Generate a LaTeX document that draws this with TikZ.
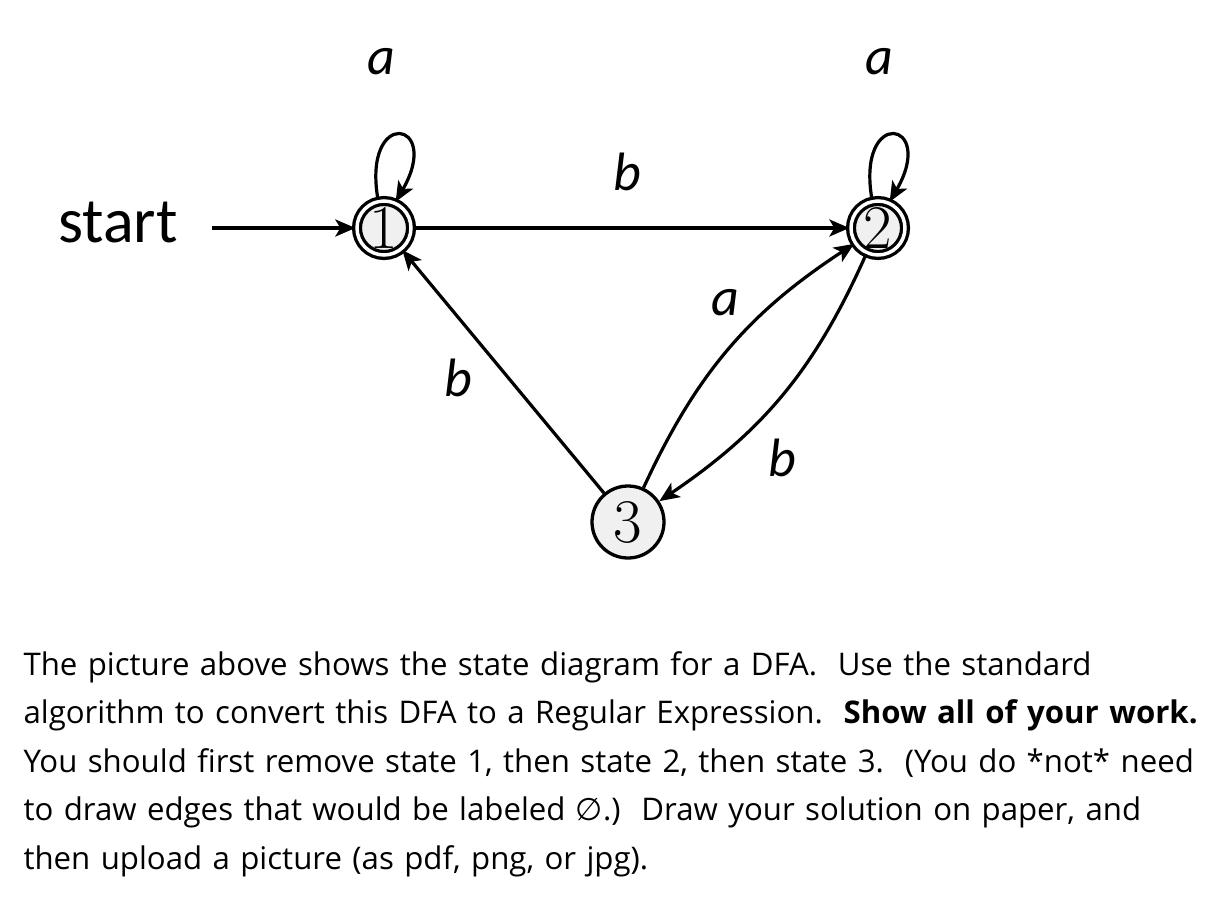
\documentclass[tikz,border=0pt]{standalone}
\usepackage{fontspec}
\setmainfont{Open Sans}
\newfontfamily\diag{Carlito}
\newfontfamily\dej{DejaVu Sans}
\newfontfamily\lmr{Latin Modern Roman}
\usetikzlibrary{arrows.meta}
\begin{document}
\begin{tikzpicture}[x=1pt,y=-1pt,
  st/.style={circle,draw,line width=3.3pt,fill=black!6,minimum size=54pt,inner sep=0pt,font=\lmr\fontsize{62}{62}\selectfont},
  acc/.style={st,double=white,double distance=3.5pt},
  lab/.style={font=\diag\itshape\fontsize{54}{54}\selectfont},
  ed/.style={line width=3.2pt,-{Stealth[length=20pt,width=17pt,inset=5pt]}}]
\useasboundingbox (0,0) rectangle (1210,908);
\node[acc] (n1) at (384,228) {1};
\node[acc] (n2) at (878,228) {2};
\node[st,minimum size=72pt] (n3) at (628,522) {3};
\node[font=\diag\fontsize{64}{64}\selectfont] (s) at (118,222) {start};
\coordinate (s0) at (212,228);
\draw[ed] (s0) -- (n1);
\draw[ed] (n1.102) .. controls +(-100:95) and +(-60:95) .. (n1.66);
\draw[ed] (n2.102) .. controls +(-100:95) and +(-60:95) .. (n2.66);
\draw[ed] (n1) -- (n2);
\draw[ed] (n3) -- (n1);
\draw[ed] (n3) to[bend left=16] (n2);
\draw[ed] (n2) to[bend left=16] (n3);
\node[lab] at (381,62) {a};
\node[lab] at (879,62) {a};
\node[lab] at (627,172) {b};
\node[lab] at (458,378) {b};
\node[lab] at (725,303) {a};
\node[lab] at (782,458) {b};
\node[anchor=north west,align=left,text width=1200pt,font=\fontsize{31.2}{48.4}\selectfont] (t) at (20,648)
{The picture above shows the state diagram for a DFA.\ \ Use the standard\\
algorithm to convert this DFA to a Regular Expression.\ \ \textbf{Show all of your work.}\\
You should first remove state 1, then state 2, then state 3.\ \ (You do *not* need\\
to draw edges that would be labeled {\dej ∅}.)\ \ Draw your solution on paper, and\\
then upload a picture (as pdf, png, or jpg).};
\end{tikzpicture}
\end{document}
